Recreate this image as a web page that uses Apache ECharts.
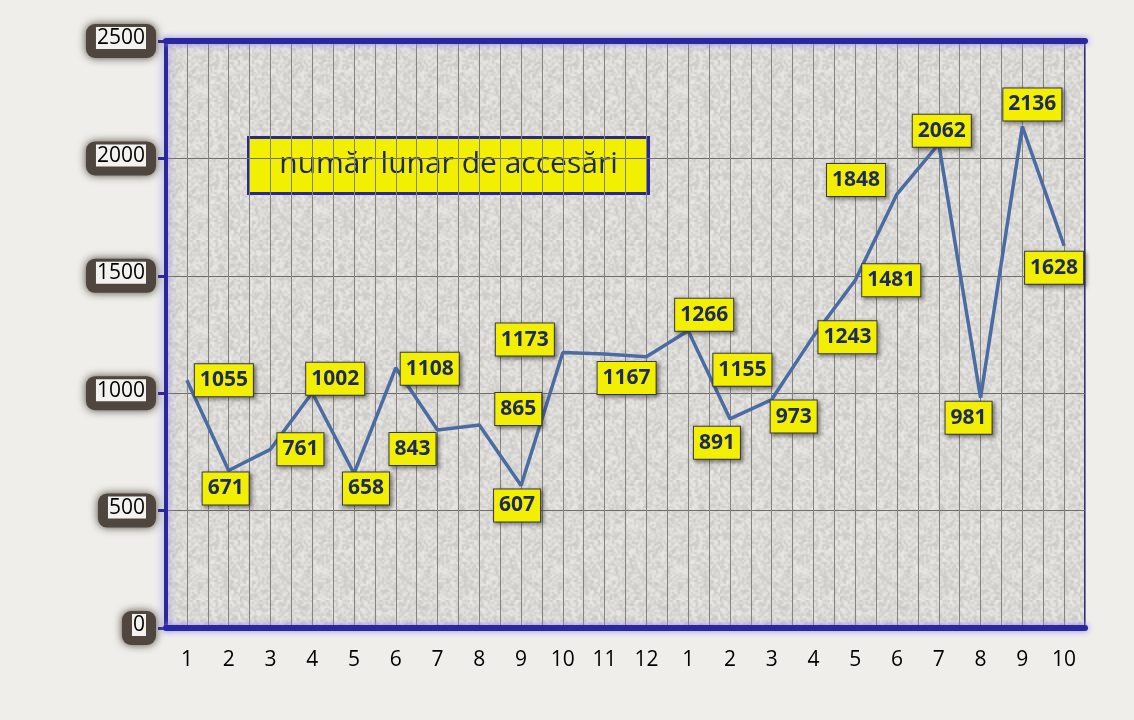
<!DOCTYPE html>
<html>
<head>
<meta charset="utf-8">
<script src="https://cdn.jsdelivr.net/npm/echarts@6/dist/echarts.min.js"></script>
<style>
  html, body { margin: 0; padding: 0; background: #efeeea; }
  #main { width: 1134px; height: 720px; }
</style>
</head>
<body>
<div id="main"></div>
<script>
// date: luni (doi ani la rand) si numarul lunar de accesari
var months = ['1', '2', '3', '4', '5', '6', '7', '8', '9', '10', '11', '12',
              '1', '2', '3', '4', '5', '6', '7', '8', '9', '10'];
var visits = [1055, 671, 761, 1002, 658, 1108, 843, 865, 607, 1173, 1167, 1155,
              1266, 891, 973, 1243, 1481, 1848, 2062, 981, 2136, 1628];
var yMin = 0, yMax = 2500, yStep = 500;
var chartTitle = 'număr lunar de accesări';

// unde sta fiecare eticheta fata de punct (px)
var labelShift = [[37, 0], [-3, 18], [30, 0], [23, -14], [12, 15], [34, 1], [-25, 19], [39, -16],
                  [-4, 20], [-38, -13], [22, 24], [96, 13], [16, -16], [-13, 24], [22, 17], [34, 1],
                  [36, 0], [-41, -14], [3, -13], [-12, 20], [10, -22], [-10, 22]];

// textura gri deschis pentru fundalul graficului
function makeTexture() {
    var small = document.createElement('canvas');
    small.width = 60; small.height = 60;
    var sctx = small.getContext('2d');
    var img = sctx.createImageData(60, 60);
    for (var i = 0; i < 60 * 60; i++) {
        var h = Math.sin(i * 12.9898 + 78.233) * 43758.5453;
        h = h - Math.floor(h);
        var v = Math.round(200 + h * 38);
        img.data[i * 4] = v;
        img.data[i * 4 + 1] = v - 2;
        img.data[i * 4 + 2] = v - 5;
        img.data[i * 4 + 3] = 255;
    }
    sctx.putImageData(img, 0, 0);
    var c = document.createElement('canvas');
    c.width = 120; c.height = 120;
    var ctx = c.getContext('2d');
    ctx.imageSmoothingEnabled = true;
    ctx.drawImage(small, 0, 0, 120, 120);
    return c;
}

var chart = echarts.init(document.getElementById('main'));

var blue = '#2b279c';

var option = {
    backgroundColor: '#efeeea',
    animation: false,
    grid: {
        left: 166, right: 49, top: 41, bottom: 92,
        show: true,
        backgroundColor: { image: makeTexture(), repeat: 'repeat' },
        borderColor: blue,
        borderWidth: 2
    },
    graphic: [{
        type: 'group',
        left: 247, top: 136,
        children: [{
            type: 'rect',
            shape: { x: 0, y: 0, width: 400, height: 56 },
            style: { fill: '#f2ef00', stroke: '#2a2a8c', lineWidth: 3 }
        }, {
            type: 'text',
            x: 200, y: 27,
            style: {
                text: chartTitle,
                font: '30px "Open Sans"',
                fill: '#1c2856',
                align: 'center',
                verticalAlign: 'middle'
            }
        }]
    }],
    xAxis: [{
        type: 'category',
        data: months,
        boundaryGap: true,
        axisLine: { lineStyle: { color: blue, width: 6, shadowColor: '#8e88ee', shadowBlur: 6 } },
        axisTick: { show: false },
        axisLabel: { color: '#000', fontSize: 21, fontFamily: 'Open Sans', margin: 22 },
        splitLine: { show: false },
        z: 5
    }, {
        // linii verticale la fiecare jumatate de luna + bordura de sus
        type: 'value',
        position: 'top',
        min: 0, max: months.length * 2, interval: 1,
        axisLine: { show: true, lineStyle: { color: blue, width: 6, shadowColor: '#8e88ee', shadowBlur: 6 } },
        axisTick: { show: false },
        axisLabel: { show: false },
        splitLine: { show: true, lineStyle: { color: '#858380', width: 1 } }
    }],
    yAxis: {
        type: 'value',
        min: yMin, max: yMax, interval: yStep,
        axisLine: { show: true, lineStyle: { color: blue, width: 4, shadowColor: '#9a94ec', shadowBlur: 8 } },
        axisTick: { show: true, length: 8, lineStyle: { color: blue, width: 3 } },
        axisLabel: {
            formatter: function (v) { return '{t|' + v + '}'; },
            margin: 10,
            backgroundColor: '#4f473f',
            borderRadius: 9,
            padding: [3, 10, 9, 10],
            shadowColor: '#4f473f',
            shadowBlur: 8,
            rich: {
                t: {
                    color: '#000', fontSize: 21, fontFamily: 'Open Sans',
                    backgroundColor: '#f3f2ee',
                    padding: [1, 1, 0, 1]
                }
            }
        },
        splitLine: { show: true, lineStyle: { color: '#6f6d69', width: 1 } }
    },
    series: [{
        type: 'line',
        data: visits.map(function (v, i) {
            return {
                value: v,
                label: { offset: labelShift[i] }
            };
        }),
        symbol: 'circle',
        symbolSize: 1,
        itemStyle: { color: '#4b6ca3' },
        lineStyle: { color: '#4b6ca3', width: 3.5 },
        z: 6,
        label: {
            show: true,
            position: 'inside',
            color: '#1c2a5e',
            fontSize: 21,
            fontWeight: 'bold',
            fontFamily: 'Open Sans',
            backgroundColor: '#f2ef00',
            borderColor: '#3a3a50',
            borderWidth: 1,
            padding: [6, 5, 5, 5],
            shadowColor: 'rgba(40,40,40,0.55)',
            shadowBlur: 4,
            shadowOffsetX: 2,
            shadowOffsetY: 2
        }
    }]
};

chart.setOption(option);
</script>
</body>
</html>
